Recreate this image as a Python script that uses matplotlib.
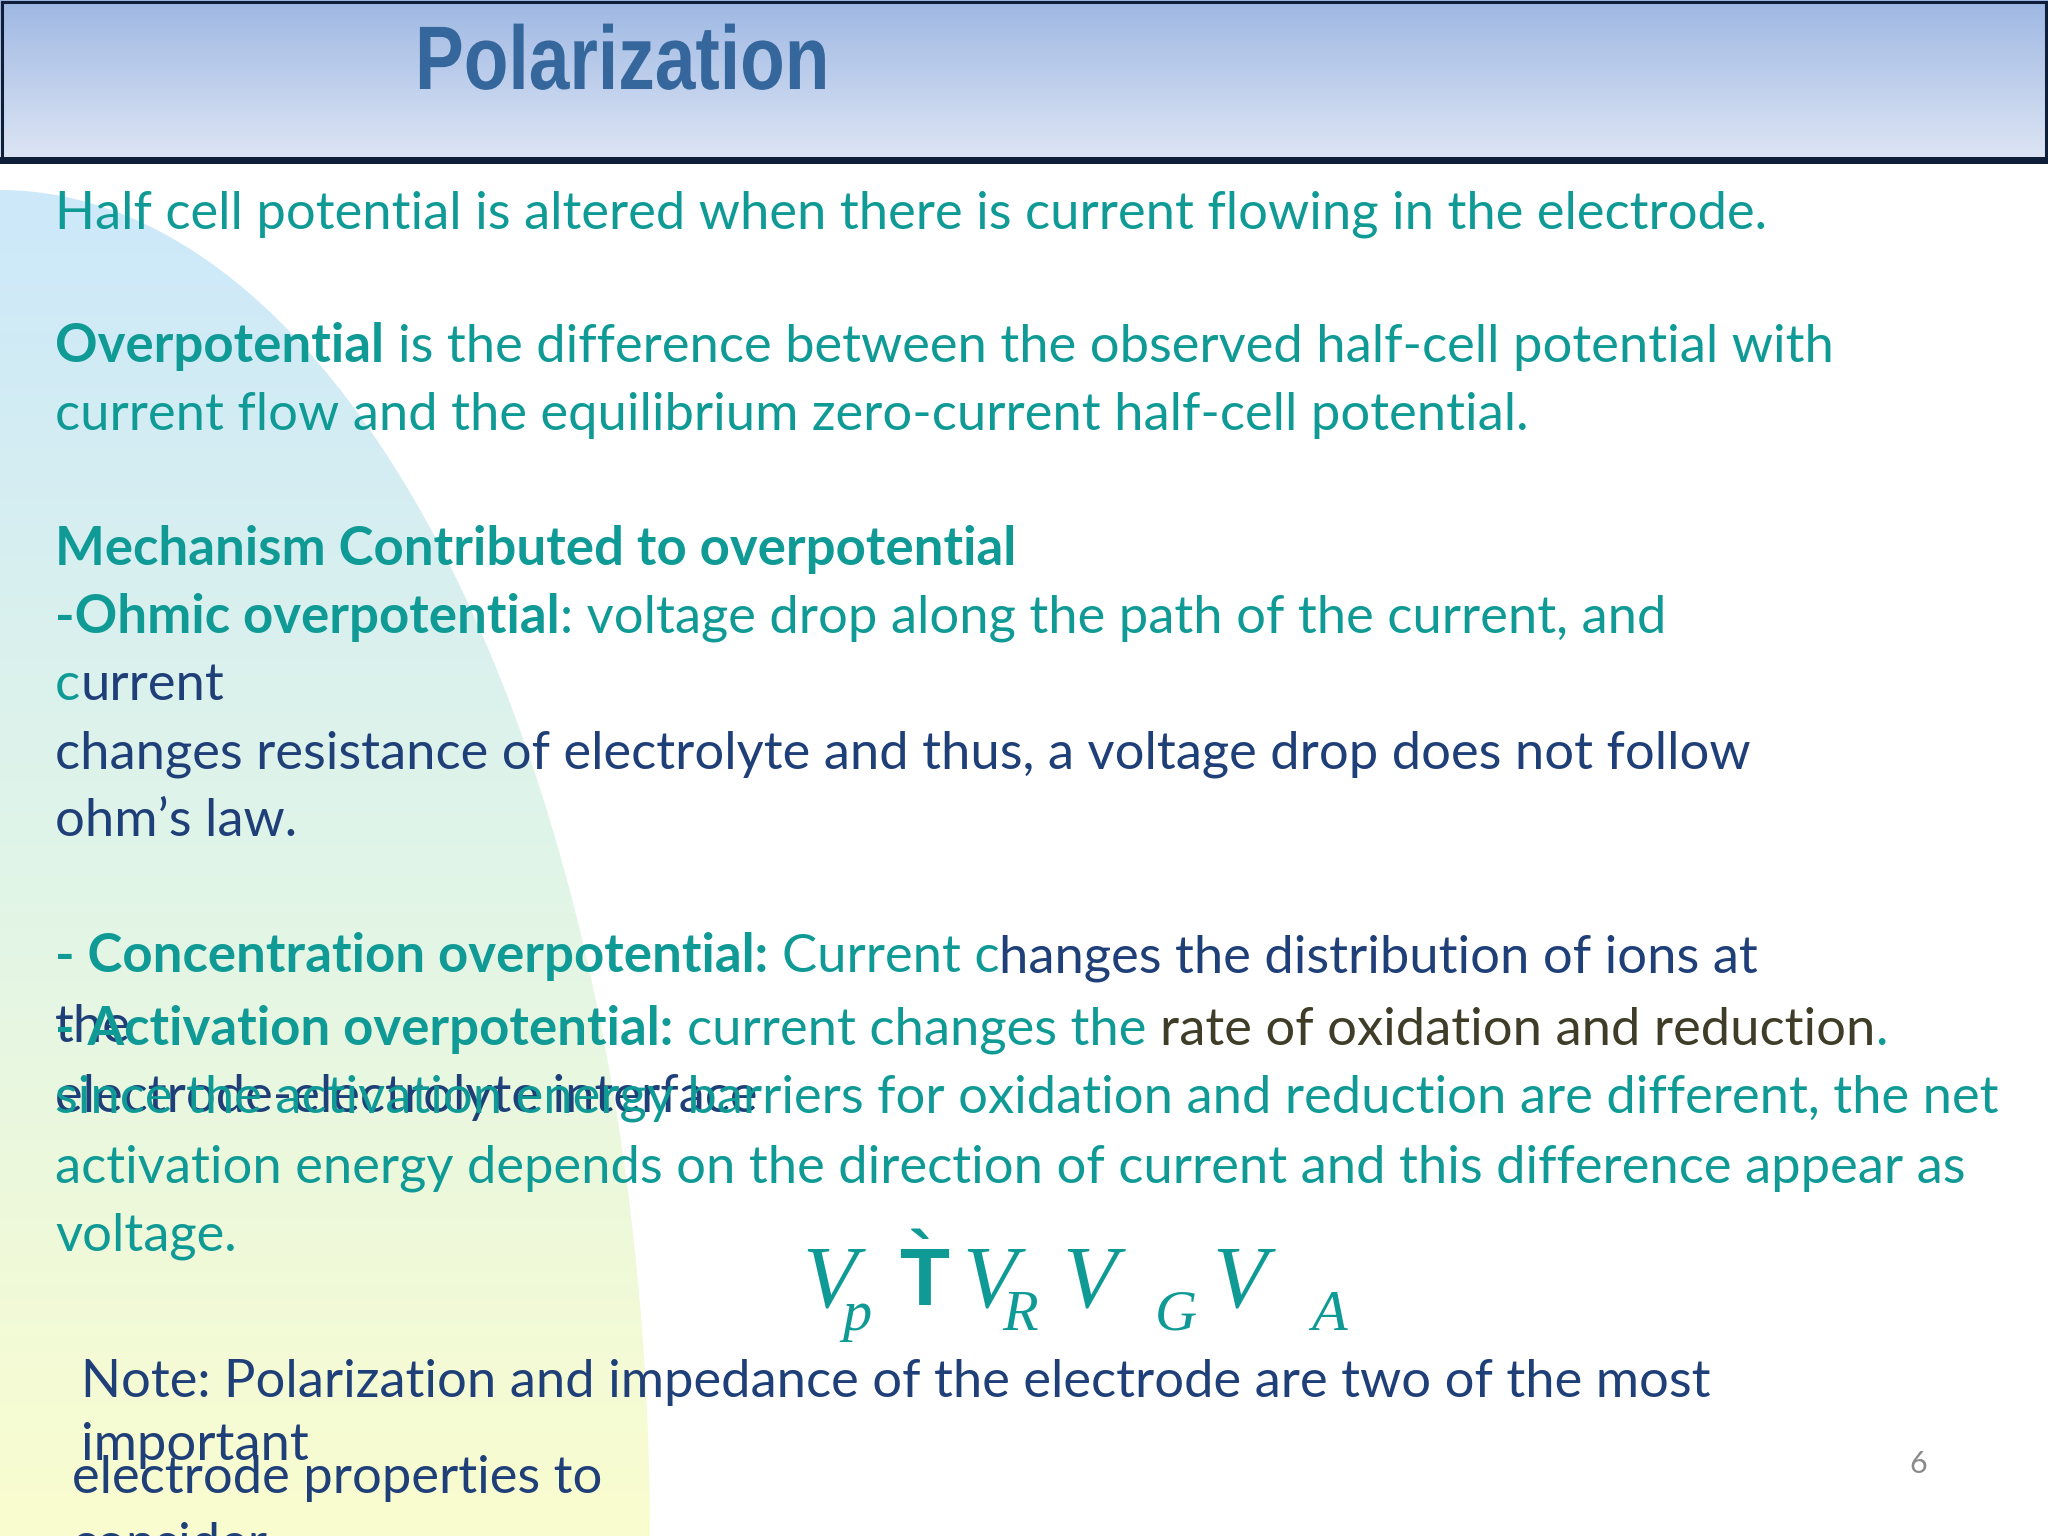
import numpy as np
import matplotlib
matplotlib.use("Agg")
import matplotlib.pyplot as plt
from matplotlib.patches import Rectangle, Ellipse
from matplotlib.patheffects import AbstractPathEffect
from matplotlib.transforms import Affine2D

# slide colours
TEAL = "#0f9a96"
NAVY = "#1f3f78"
OLIVE = "#3f3d28"
TITLE_BLUE = "#35679c"
BORDER = "#0f1f3a"

W, H = 2048, 1536
BODY_FONT = ["Lato", "DejaVu Sans"]
REG_SIZE = 37.8
BOLD_SIZE = 38

title = "Polarization"

# each line: (x, baseline y, [(text, colour, bold), ...])
body_lines = [
    (55, 228, [("Half cell potential is altered when there is current flowing in the electrode.", TEAL, False)]),
    (55, 362, [("Overpotential", TEAL, True),
               (" is the difference between the observed half-cell potential with", TEAL, False)]),
    (55, 430, [("current flow and the equilibrium zero-current half-cell potential.", TEAL, False)]),
    (55, 565, [("Mechanism Contributed to overpotential", TEAL, True)]),
    (55, 633, [("-Ohmic overpotential", TEAL, True),
               (": voltage drop along the path of the current, and", TEAL, False)]),
    (55, 700, [("c", TEAL, False), ("urrent", NAVY, False)]),
    (55, 769, [("changes resistance of electrolyte and thus, a voltage drop does not follow", NAVY, False)]),
    (55, 836, [("ohm\u2019s law.", NAVY, False)]),
    (55, 972, [("- Concentration overpotential:", TEAL, True),
               (" Current c", TEAL, False),
               ("hanges the distribution of ions at", NAVY, False)]),
    (55, 1042, [("the", NAVY, False)]),
    (55, 1112, [("electrode-electrolyte interface", NAVY, False)]),
    (55, 1045, [("- Activation overpotential:", TEAL, True),
                (" current changes the ", TEAL, False),
                ("rate of oxidation and reduction", OLIVE, False),
                (".", TEAL, False)]),
    (55, 1113, [("since the activation energy barriers for oxidation and reduction are different, the net", TEAL, False)]),
    (55, 1183, [("activation energy depends on the direction of current and this difference appear as", TEAL, False)]),
    (55, 1251, [("voltage.", TEAL, False)]),
    (81, 1397, [("Note: Polarization and impedance of the electrode are two of the most", NAVY, False)]),
    (81, 1460, [("important", NAVY, False)]),
    (72, 1493, [("electrode properties to", NAVY, False)]),
    (72, 1560, [("consider", NAVY, False)]),
]

# equation pieces: (text, x, baseline y)
eq_main = [("V", 802, 1306), ("V", 962, 1306), ("V", 1062, 1306), ("V", 1212, 1306)]
eq_subs = [("p", 842, 1330), ("R", 1002, 1330), ("G", 1155, 1330), ("A", 1311, 1330)]

page_number = "6"


class Squeeze(AbstractPathEffect):
    """Draw text narrower around a fixed left edge (condensed headline)."""

    def __init__(self, sx, x0):
        super().__init__()
        self.sx = sx
        self.x0 = x0

    def draw_path(self, renderer, gc, tpath, affine, rgbFace=None):
        squeeze = Affine2D().translate(-self.x0, 0).scale(self.sx, 1).translate(self.x0, 0)
        renderer.draw_path(gc, tpath, affine + squeeze, rgbFace)


fig = plt.figure(figsize=(W / 100, H / 100), dpi=100)
ax = fig.add_axes([0, 0, 1, 1])
ax.set_xlim(0, W)
ax.set_ylim(H, 0)
ax.axis("off")

# left decorative shape: big ellipse with blue -> yellow gradient
grad = np.linspace(0, 1, 256)[:, None]
top_c = np.array([0.80, 0.91, 0.98])
mid_c = np.array([0.88, 0.96, 0.91])
bot_c = np.array([0.98, 0.99, 0.81])
cols = np.where(grad[..., None] < 0.5,
                top_c + (mid_c - top_c) * (grad[..., None] / 0.5),
                mid_c + (bot_c - mid_c) * ((grad[..., None] - 0.5) / 0.5))
cols = np.repeat(cols, 2, axis=1)
im = ax.imshow(cols, extent=[0, 660, 1536, 185], aspect="auto", zorder=0)
shape = Ellipse((0, 1540), 1300, 2700, transform=ax.transData, facecolor="none", edgecolor="none")
ax.add_patch(shape)
im.set_clip_path(shape)

# header bar
hgrad = np.linspace(0, 1, 256)[:, None]
htop = np.array([0.62, 0.72, 0.89])
hbot = np.array([0.87, 0.90, 0.96])
hcols = htop + (hbot - htop) * hgrad[..., None]
hcols = np.repeat(hcols, 2, axis=1)
ax.imshow(hcols, extent=[0, W, 160, 0], aspect="auto", zorder=1)
ax.add_patch(Rectangle((1.5, 1.5), W - 4, 158, facecolor="none", edgecolor=BORDER, lw=2.2, zorder=2))
ax.add_patch(Rectangle((0, 157), W, 7, facecolor=BORDER, edgecolor="none", zorder=2))

ax.text(415, 89, title, fontsize=65, fontweight="bold", color=TITLE_BLUE,
        family=["Liberation Sans", "DejaVu Sans"],
        va="baseline", ha="left", zorder=3,
        path_effects=[Squeeze(0.81, 415)])

fig.canvas.draw()
renderer = fig.canvas.get_renderer()


def text_width(s, bold):
    t = ax.text(0, 0, s, fontsize=BOLD_SIZE if bold else REG_SIZE, family=BODY_FONT,
                fontweight="bold" if bold else "normal")
    bb = t.get_window_extent(renderer)
    t.remove()
    return bb.width


space_w = {b: text_width("a a", b) - text_width("aa", b) for b in (False, True)}

for x0, y0, runs in body_lines:
    x = x0
    for s, c, bold in runs:
        lead = len(s) - len(s.lstrip(" "))
        trail = len(s) - len(s.rstrip(" "))
        core = s.strip(" ")
        x += lead * space_w[bold]
        if core:
            t = ax.text(x, y0, core, fontsize=BOLD_SIZE if bold else REG_SIZE,
                        family=BODY_FONT, color=c,
                        fontweight="bold" if bold else "normal",
                        va="baseline", ha="left", zorder=4)
            x += t.get_window_extent(renderer).width
        x += trail * space_w[bold]

# equation
serif = ["Liberation Serif", "DejaVu Serif"]
for s, x, y in eq_main:
    ax.text(x, y, s, fontsize=64, style="italic", family=serif,
            color=TEAL, va="baseline", ha="left", zorder=4)
for s, x, y in eq_subs:
    ax.text(x, y, s, fontsize=42, style="italic", family=serif,
            color=TEAL, va="baseline", ha="left", zorder=4)
ax.text(899, 1305, "T", fontsize=59, fontweight="bold", family=["Liberation Sans", "DejaVu Sans"],
        color=TEAL, va="baseline", ha="left", zorder=4)
ax.text(909, 1279, "`", fontsize=50, fontweight="bold", family=["Liberation Sans", "DejaVu Sans"],
        color=TEAL, va="baseline", ha="left", zorder=4)

ax.text(1909, 1473, page_number, fontsize=22, family=BODY_FONT, color="#8a8a8a",
        va="baseline", ha="left", zorder=4)

fig.savefig("out.png", dpi=100)
